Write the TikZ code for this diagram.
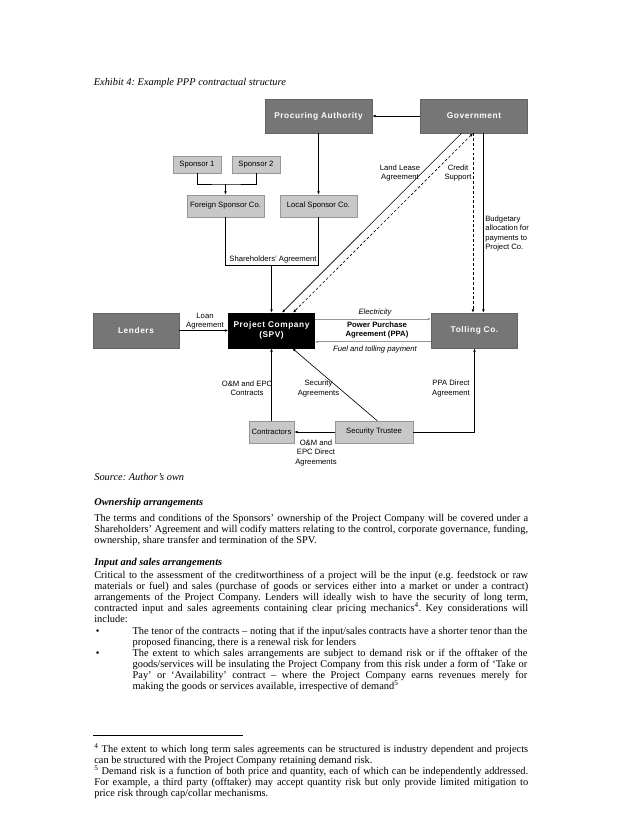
\documentclass[tikz,border=0pt]{standalone}
\usepackage{fontspec}
\setmainfont{Liberation Serif}
\newfontfamily\diagfont{Liberation Sans}
\newfontfamily\boxfont[LetterSpace=7]{Liberation Sans}
\usetikzlibrary{arrows.meta}
\frenchspacing

\definecolor{boxgrey}{RGB}{118,118,118}
\definecolor{lightgrey}{RGB}{200,200,200}
\definecolor{lightedge}{RGB}{150,150,150}
\definecolor{arrowgrey}{RGB}{150,150,150}

\tikzset{
  bigbox/.style={draw=boxgrey!85!black, fill=boxgrey, text=white, inner sep=0pt, align=center,
    font=\boxfont\bfseries\fontsize{8}{9.8}\selectfont, minimum width=102.6bp, minimum height=32.6bp},
  midbox/.style={bigbox, minimum width=82.5bp, minimum height=33.6bp},
  smallbox/.style={draw=lightedge, fill=lightgrey, inner sep=0pt,
    font=\diagfont\fontsize{7.4}{8.7}\selectfont, minimum height=21.1bp},
  sponsorbox/.style={smallbox, minimum width=46bp, minimum height=16.3bp},
  lbl/.style={inner sep=0pt, align=center, font=\diagfont\fontsize{7.4}{8.7}\selectfont},
  lblbf/.style={lbl, font=\diagfont\bfseries\fontsize{7.4}{8.7}\selectfont},
  dashline/.style={dash pattern=on 2.6bp off 2bp},
  greyline/.style={draw=arrowgrey, line width=1bp},
  plain/.style={anchor=base west, inner sep=0pt, font=\fontsize{10}{10.8}\selectfont},
  body/.style={plain, text width=416bp, align=justify},
  item/.style={plain, text width=378.5bp, align=justify}
}

\begin{document}
\begin{tikzpicture}[x=0.95884bp, y=-0.95884bp, line width=0.6bp, >={Latex[length=3.2bp,width=2.6bp]}]
\useasboundingbox (0,0) rectangle (638,826);

% Nodes
\node[bigbox] (pa) at (318.5,116) {Procuring Authority};
\node[bigbox] (gov) at (474,116) {Government};
\node[sponsorbox] (sp1) at (197,164.5) {Sponsor 1};
\node[sponsorbox] (sp2) at (256,164.5) {Sponsor 2};
\node[smallbox, minimum width=73.8bp] (fsc) at (225.5,206) {Foreign Sponsor Co.};
\node[smallbox, minimum width=73.8bp] (lsc) at (318.5,206) {Local Sponsor Co.};
\node[midbox] (lend) at (136,330.5) {Lenders};
\node[midbox, fill=black, draw=black] (spv) at (271.5,330.5) {Project Company\\(SPV)};
\node[midbox] (toll) at (474.5,330.5) {Tolling Co.};
\node[smallbox, minimum width=43.1bp] (contr) at (271.5,432) {Contractors};
\node[smallbox, minimum width=74.8bp] (trust) at (374,432) {Security Trustee};

% Joints
\coordinate (sj) at (225.5,184);
\coordinate (shj) at (271.5,265.7);

% Arrows
\draw[->] (gov) -- (pa);
\draw (sp1.south) |- (sj) -| (sp2.south);
\draw[->] (sj) -- (fsc.north);
\draw[->] (pa) -- (lsc);
\draw (fsc.south) |- (shj) -| (lsc.south);
\draw[->] (shj) -- (spv.north);
\draw[->] ([xshift=-12bp]gov.south) -- ([xshift=10bp]spv.north);
\draw[dashline,<->] ([xshift=-1bp]gov.south) -- ([xshift=20.6bp]spv.north);
\draw[dashline,->] ([xshift=-1bp]gov.south) -- ([xshift=-1bp]gov.south |- toll.north);
\draw[->] ([xshift=9bp]gov.south) -- ([xshift=9bp]gov.south |- toll.north);
\draw[->] (lend) -- (spv);
\draw[greyline,->] ([yshift=11bp]spv.east) -- ([yshift=11bp]spv.east -| toll.west);
\draw[greyline,->] ([yshift=-11bp]toll.west) -- ([yshift=-11bp]toll.west -| spv.east);
\draw[->] (contr) -- (spv);
\draw[->] ([xshift=3bp]trust.north) -- ([xshift=20bp]spv.south);
\draw[->] (trust.east) -| (toll.south);
\draw[->] (trust) -- (contr);

% Labels
\node[lbl] (ll) at (400,173) {Land Lease\\Agreement};
\node[lbl] (cs) at (458,173) {Credit\\Support};
\node[lbl, align=left, anchor=west] (ba) at (485,233.5) {Budgetary\\allocation for\\payments to\\Project Co.};
\node[lbl] (sha) at (273,259.5) {Shareholders’ Agreement};
\node[lbl] (la) at (205,321) {Loan\\Agreement};
\node[lbl] (el) at (375,313) {\itshape Electricity};
\node[lblbf] (ppa) at (377,330.5) {Power Purchase\\Agreement (PPA)};
\node[lbl] (fuel) at (375,350) {\itshape Fuel and tolling payment};
\node[lbl] (omc) at (247,388.5) {O\&M and EPC\\Contracts};
\node[lbl] (sa) at (318.5,388.5) {Security\\Agreements};
\node[lbl] (pda) at (451,388.5) {PPA Direct\\Agreement};
\node[lbl] (omd) at (316,453) {O\&M and\\EPC Direct\\Agreements};

% Page text
\node[plain] (title) at (93.5,85) {\itshape Exhibit 4: Example PPP contractual structure};
\node[plain] (src) at (94,480.5) {\itshape Source: Author’s own};
\node[plain] (own) at (94,505.5) {\bfseries\itshape Ownership arrangements};
\node[body] (p1) at (94,521) {The terms and conditions of the Sponsors’ ownership of the Project Company will be covered under a\linebreak
  Shareholders’ Agreement and will codify matters relating to the control, corporate governance, funding,\linebreak
  ownership, share transfer and termination of the SPV.};
\node[plain] (inp) at (94,565) {\bfseries\itshape Input and sales arrangements};
\node[body] (p2) at (94,578) {Critical to the assessment of the creditworthiness of a project will be the input (e.g. feedstock or raw\linebreak
  materials or fuel) and sales (purchase of goods or services either into a market or under a contract)\linebreak
  arrangements of the Project Company. Lenders will ideally wish to have the security of long term,\linebreak
  contracted input and sales agreements containing clear pricing mechanics\textsuperscript{4}. Key considerations will\linebreak
  include:};
\node[plain] (b1) at (95.5,634) {•};
\node[item] (i1) at (132.3,634) {The tenor of the contracts – noting that if the input/sales contracts have a shorter tenor than the\linebreak
  proposed financing, there is a renewal risk for lenders};
\node[plain] (b2) at (95.5,656) {•};
\node[item] (i2) at (132.3,656) {The extent to which sales arrangements are subject to demand risk or if the offtaker of the\linebreak
  goods/services will be insulating the Project Company from this risk under a form of ‘Take or\linebreak
  Pay’ or ‘Availability’ contract – where the Project Company earns revenues merely for\linebreak
  making the goods or services available, irrespective of demand\textsuperscript{5}};

% Footnotes
\draw[line width=0.5bp] (93,735.7) -- (243,735.7);
\node[body] (f4) at (94,752) {\textsuperscript{4} The extent to which long term sales agreements can be structured is industry dependent and projects\linebreak
  can be structured with the Project Company retaining demand risk.};
\node[body] (f5) at (94,774.5) {\textsuperscript{5} Demand risk is a function of both price and quantity, each of which can be independently addressed.\linebreak
  For example, a third party (offtaker) may accept quantity risk but only provide limited mitigation to\linebreak
  price risk through cap/collar mechanisms.};

\end{tikzpicture}
\end{document}
